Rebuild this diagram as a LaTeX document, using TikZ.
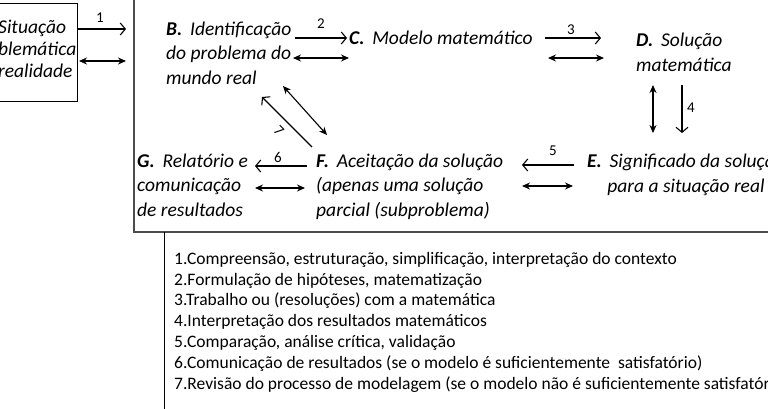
\documentclass[tikz,border=0pt]{standalone}
\usepackage{fontspec}
\setmainfont{Carlito}
\usetikzlibrary{arrows.meta,positioning}

\tikzset{
  etapa/.style={font=\fontsize{19.5}{24.5}\selectfont\itshape, align=left, inner sep=0pt, anchor=base west},
  seta/.style={-{Straight Barb[length=5pt,width=12pt]}, line width=1.1pt},
  duplo/.style={{Stealth[length=8pt,width=7pt]}-{Stealth[length=8pt,width=7pt]}, line width=1.1pt},
  num/.style={font=\fontsize{15}{15}\selectfont, inner sep=0pt},
  lista/.style={font=\fontsize{17.5}{20.8}\selectfont, align=left, inner sep=0pt, anchor=base west}
}
\newcommand{\letra}[1]{\textbf{#1}\hspace{0.4em}}

\begin{document}
\begin{tikzpicture}[x=1pt,y=-1pt]
    \useasboundingbox (0,0) rectangle (768,408);
    \clip (0,0) rectangle (768,408);

    % Caixas
    \draw[line width=1pt] (-20,3) rectangle (77,101);
    \draw[line width=1.3pt, black!70] (134,-10) rectangle (790,232);
    \draw[line width=1pt] (164,232) -- (164,420);

    % Etapas (ancoradas na linha de base da ultima linha)
    \node[etapa, font=\fontsize{19.5}{22}\selectfont\itshape] (A) at (-2,77) {Situação\\blemática\\realidade};
    \node[etapa] (B) at (166,84) {\letra{B.}Identificação\\do problema do\\mundo real};
    \node[etapa] (C) at (349,44) {\letra{C.}Modelo matemático};
    \node[etapa] (D) at (636,71) {\letra{D.}Solução\\matemática};
    \node[etapa, align=center, anchor=base] (E) at (686,192) {\letra{E.}Significado da solução\\para a situação real};
    \node[etapa] (F) at (316,216) {\letra{F.}Aceitação da solução\\(apenas uma solução\\parcial (subproblema)};
    \node[etapa] (G) at (137,216) {\letra{G.}Relatório e\\comunicação\\de resultados};

    % Setas simples
    \foreach \n/\xa/\ya/\xb/\yb in {1/78/29/126/29, 2/295/38/347/38, 3/545/38/601/38, 4/682/85/682/133,
                                    5/574/165/522/165, 6/307/166/255/166, 7/312/147/262/97} {
        \coordinate (s\n a) at (\xa,\ya);
        \coordinate (s\n b) at (\xb,\yb);
        \draw[seta] (s\n a) -- (s\n b);
    }
    \foreach \n/\x/\y in {1/100/18, 2/321/24, 3/571/30, 4/691/108, 5/553/151, 6/278/157}
        \node[num] (n\n) at (\x,\y) {\n};
    \node[num, rotate=-45] (n7) at (279,131) {7};

    % Setas duplas
    \foreach \n/\xa/\ya/\xb/\yb in {1/79/61/126/61, 2/293/58/349/58, 3/548/58/604/58, 4/653/85/653/133,
                                    5/522/186/573/186, 6/255/188/305/188, 7/283/86/327/135} {
        \coordinate (d\n a) at (\xa,\ya);
        \coordinate (d\n b) at (\xb,\yb);
        \draw[duplo] (d\n a) -- (d\n b);
    }

    % Legenda
    \node[lista] (L) at (174,389) {1.Compreensão, estruturação, simplificação, interpretação do contexto\\
        2.Formulação de hipóteses, matematização\\
        3.Trabalho ou (resoluções) com a matemática\\
        4.Interpretação dos resultados matemáticos\\
        5.Comparação, análise crítica, validação\\
        6.Comunicação de resultados (se o modelo é suficientemente\ \ satisfatório)\\
        7.Revisão do processo de modelagem (se o modelo não é suficientemente satisfatório)};
\end{tikzpicture}
\end{document}
